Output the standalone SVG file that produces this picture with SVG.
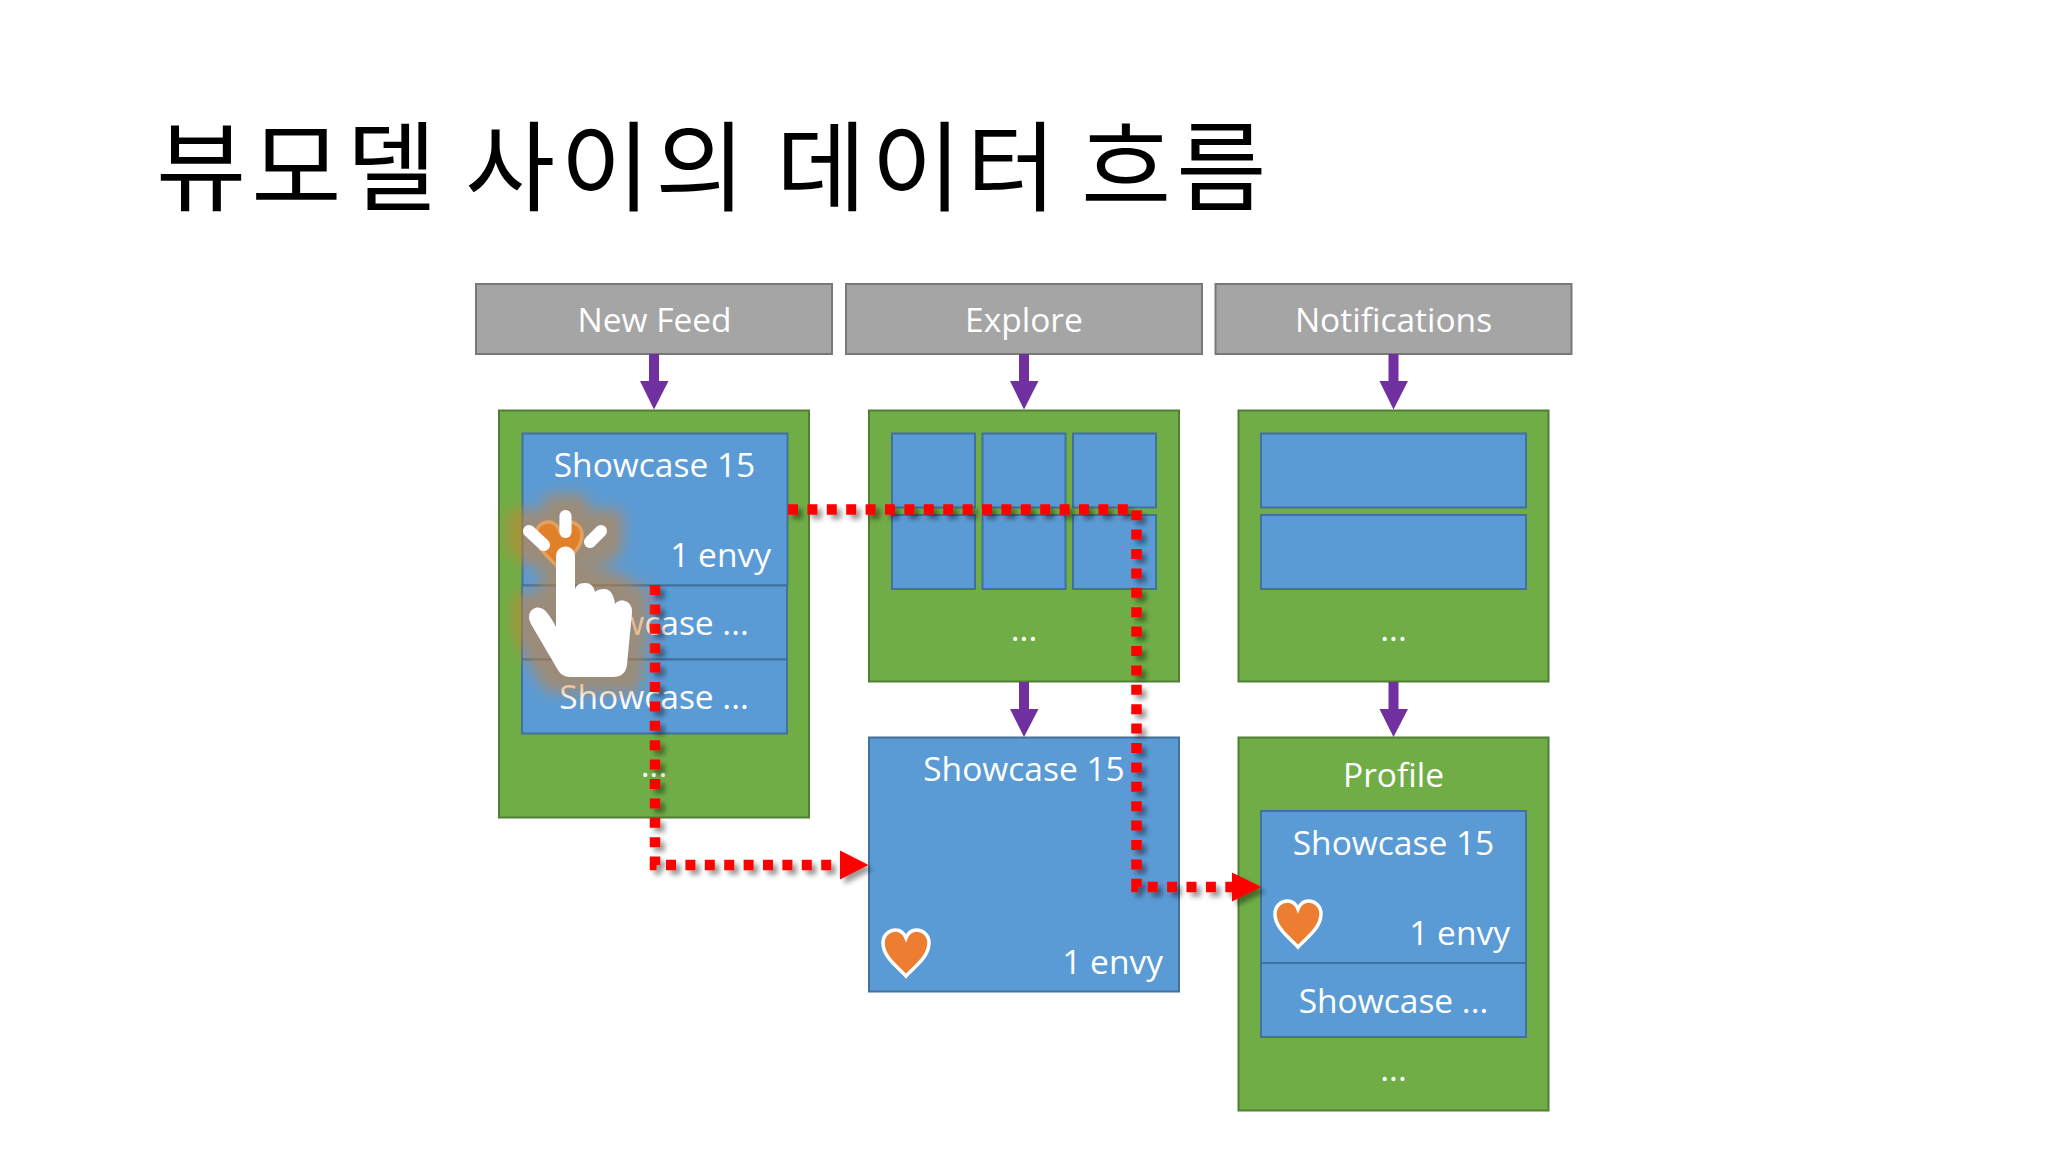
<svg xmlns="http://www.w3.org/2000/svg" width="2048" height="1152" viewBox="0 0 2048 1152">
<style>
.g{fill:#a5a5a5;stroke:#787878;stroke-width:2}
.p{fill:#70ad47;stroke:#507e32;stroke-width:2}
.b{fill:#5b9bd5;stroke:#41719c;stroke-width:2}
text{font-family:"Open Sans","Noto Sans",sans-serif;font-size:33.500px;fill:#fff;text-anchor:middle}
.r{text-anchor:end}
.t{font-family:"Noto Sans CJK KR",sans-serif;font-size:98px;font-weight:400;fill:#000;text-anchor:start;letter-spacing:5px}
.ar{fill:#7030a0}
.rd{fill:none;stroke:#f00;stroke-width:10.500;stroke-dasharray:10 9.400}
.rh{fill:#f00}
.h{fill:#ed7d31;stroke:#fff;stroke-width:3.500}
</style>
<defs>
<filter id="sh" x="-10%" y="-10%" width="120%" height="120%"><feDropShadow dx="4.500" dy="4.500" stdDeviation="2.500" flood-color="#000" flood-opacity="0.4"/></filter>
<filter id="gl" x="-40%" y="-40%" width="180%" height="180%"><feMorphology in="SourceAlpha" operator="dilate" radius="16" result="d"/><feGaussianBlur in="d" stdDeviation="7" result="b"/><feFlood flood-color="#d08030" flood-opacity="0.55"/><feComposite in2="b" operator="in" result="c"/><feMerge><feMergeNode in="c"/><feMergeNode in="SourceGraphic"/></feMerge></filter>
<path id="heart" d="M0 23 C-8 14 -23 4 -23 -10 C-23 -18 -17 -23 -10.500 -23 C-6 -23 -2 -20 0 -15 C2 -20 6 -23 10.500 -23 C17 -23 23 -18 23 -10 C23 4 8 14 0 23 Z"/>
</defs>
<text class="t" y="203"><tspan x="156">뷰모델</tspan> <tspan x="465">사이의</tspan> <tspan x="776">데이터</tspan> <tspan x="1081">흐름</tspan></text>

<g id="tab-newfeed"><rect class="g" x="476" y="284" width="356" height="70"/><text x="654.500" y="332">New Feed</text></g>
<g id="tab-explore"><rect class="g" x="846" y="284" width="356" height="70"/><text x="1024" y="332">Explore</text></g>
<g id="tab-notifications"><rect class="g" x="1215.500" y="284" width="356" height="70"/><text x="1393.500" y="332">Notifications</text></g>

<g id="screen-newfeed">
<rect class="p" x="499" y="410.500" width="310" height="407"/>
<rect class="b" x="522.500" y="433.500" width="265" height="152"/>
<rect class="b" x="522" y="585.500" width="265" height="74"/>
<rect class="b" x="522" y="659.500" width="265" height="74"/>
<text x="654.500" y="476.500">Showcase 15</text>
<text class="r" x="771" y="567">1 envy</text>
<text x="654" y="635">Showcase ...</text>
<text x="654" y="709">Showcase ...</text>
<text x="654" y="777">...</text>
</g>
<g id="screen-explore">
<rect class="p" x="869" y="410.500" width="310" height="271"/>
<rect class="b" x="892" y="433.500" width="83" height="74"/>
<rect class="b" x="982.500" y="433.500" width="83" height="74"/>
<rect class="b" x="1073" y="433.500" width="83" height="74"/>
<rect class="b" x="892" y="515" width="83" height="74"/>
<rect class="b" x="982.500" y="515" width="83" height="74"/>
<rect class="b" x="1073" y="515" width="83" height="74"/>
<text x="1024" y="641">...</text>
</g>
<g id="screen-notifications">
<rect class="p" x="1238.500" y="410.500" width="310" height="271"/>
<rect class="b" x="1261" y="433.500" width="265" height="74"/>
<rect class="b" x="1261" y="515" width="265" height="74"/>
<text x="1393.500" y="641">...</text>
</g>
<g id="detail-showcase">
<rect class="b" x="869" y="737.500" width="310" height="254"/>
<text x="1024" y="781">Showcase 15</text>
<text class="r" x="1163" y="974">1 envy</text>
<use href="#heart" class="h" x="906" y="953"/>
</g>
<g id="screen-profile">
<rect class="p" x="1238.500" y="737.500" width="310" height="373"/>
<rect class="b" x="1261" y="811" width="265" height="152"/>
<rect class="b" x="1261" y="963" width="265" height="74"/>
<text x="1393.500" y="787">Profile</text>
<text x="1393.500" y="854.500">Showcase 15</text>
<text class="r" x="1510" y="945">1 envy</text>
<text x="1393.500" y="1013">Showcase ...</text>
<text x="1393.500" y="1081">...</text>
<use href="#heart" class="h" x="1298" y="924"/>
</g>

<g id="connectors">
<path class="ar" d="M649 354H659V381H668.500L654 409.500L640 381H649Z"/>
<path class="ar" d="M1019 354H1029V381H1038.500L1024 409.500L1010 381H1019Z"/>
<path class="ar" d="M1388.500 354H1398.500V381H1408L1393.500 409.500L1379.500 381H1388.500Z"/>
<path class="ar" d="M1019 682H1029V709H1038.500L1024 737L1010 709H1019Z"/>
<path class="ar" d="M1388.500 682H1398.500V709H1408L1393.500 737L1379.500 709H1388.500Z"/>
<g filter="url(#sh)">
<path class="rd" d="M788 509.500H1136.500V887H1235"/>
<path class="rh" d="M1232 872.500L1261.500 887L1232 901.500Z"/>
</g>
<g filter="url(#sh)">
<path class="rd" d="M655 585V865H842"/>
<path class="rh" d="M840 850.500L868.500 865L840 879.500Z"/>
</g>
</g>

<g id="touch-hand">
<use href="#heart" class="h" x="559" y="545" style="fill:#f5801f;stroke:#f8c89a"/>
<g filter="url(#gl)" fill="#fff">
<rect x="559.500" y="510" width="12" height="28" rx="6"/>
<path d="M529 531L544 545" stroke="#fff" stroke-width="12" stroke-linecap="round"/>
<path d="M601 531L590 542" stroke="#fff" stroke-width="12" stroke-linecap="round"/>
<path d="M556 556A9.500 9.500 0 0 1 575 556V590Q576 583 585 583Q593 583 595 592Q598 589 605 589Q613 590 615 604Q618 600 623 600.500Q632 602 632 612L627 664Q626 677 612 677H570Q562 677 558 670L531 624Q527 616 531 611Q536 605 543 609Q548 612 556 627Z"/>
</g>
</g>
</svg>
